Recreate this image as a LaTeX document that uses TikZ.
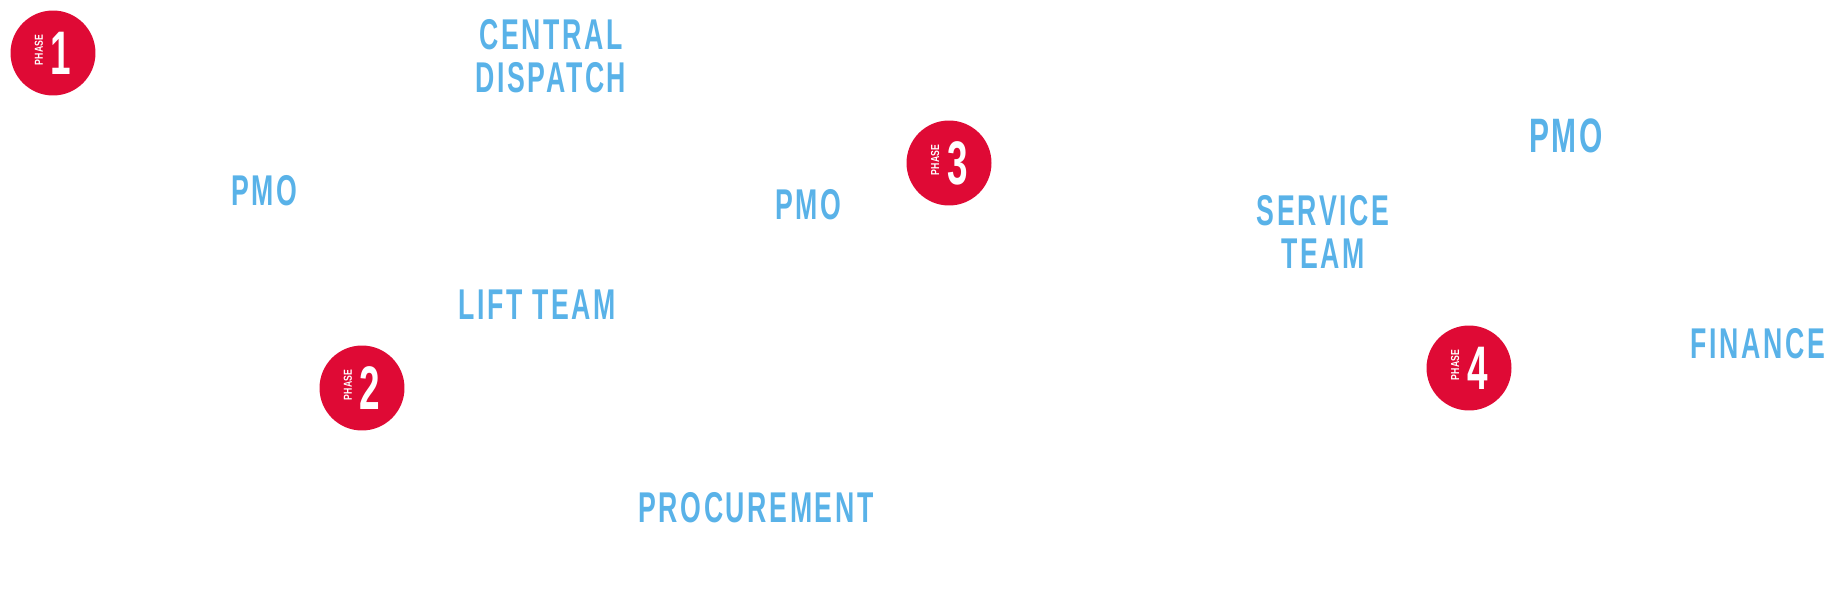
\documentclass[tikz,border=0pt]{standalone}
\usepackage{fontspec}
\setmainfont{Liberation Sans}
\newfontfamily\condfont[FakeStretch=0.62,LetterSpace=6]{Liberation Sans}
\newfontfamily\numfont[FakeStretch=0.6]{Liberation Sans}
\newfontfamily\phasefont[FakeStretch=0.75,LetterSpace=3]{Liberation Sans}
\usepackage{xcolor}
\definecolor{phasered}{HTML}{DF0A35}
\definecolor{teamblue}{HTML}{59B2E8}
\tikzset{font=\condfont\bfseries\fontsize{24.5}{24.5}\selectfont}
\tikzstyle{phasedot}=[circle,fill=phasered,inner sep=0pt,minimum size=85*0.569pt]
\tikzstyle{team}=[text=teamblue,align=center,inner sep=0pt]
\tikzstyle{phasetag}=[text=white,rotate=90,inner sep=0pt,font=\phasefont\bfseries\fontsize{6.6}{6.6}\selectfont]
\tikzstyle{phasenum}=[text=white,inner sep=0pt,font=\numfont\bfseries\fontsize{35}{35}\selectfont]
\begin{document}
\begin{tikzpicture}[x=0.02cm,y=-0.02cm]
\useasboundingbox (0,0) rectangle (1828,615);
\node[phasedot] (P1) at (53,53) {};
\node[phasedot] (P2) at (362,388) {};
\node[phasedot] (P3) at (949,163) {};
\node[phasedot] (P4) at (1469,368) {};
\node[phasetag] (T1) at (39,50) {PHASE};
\node[phasetag] (T2) at (348,385) {PHASE};
\node[phasetag] (T3) at (935,160) {PHASE};
\node[phasetag] (T4) at (1455,365) {PHASE};
\node[phasenum] (N1) at (61,53) {1};
\node[phasenum] (N2) at (370,388) {2};
\node[phasenum] (N3) at (958,163) {3};
\node[phasenum] (N4) at (1478,368) {4};
\node[team] (A) at (551,56) {CENTRAL\\[0pt]DISPATCH};
\node[team] (B) at (264,191) {PMO};
\node[team] (C) at (808,205) {PMO};
\node[team,font=\condfont\bfseries\fontsize{27.5}{27.5}\selectfont] (D) at (1566,136) {PMO};
\node[team] (E) at (537,305) {LIFT TEAM};
\node[team] (F) at (756,508) {PROCUREMENT};
\node[team] (G) at (1323,232) {SERVICE\\[0pt]TEAM};
\node[team] (H) at (1758,344) {FINANCE};
\end{tikzpicture}
\end{document}
